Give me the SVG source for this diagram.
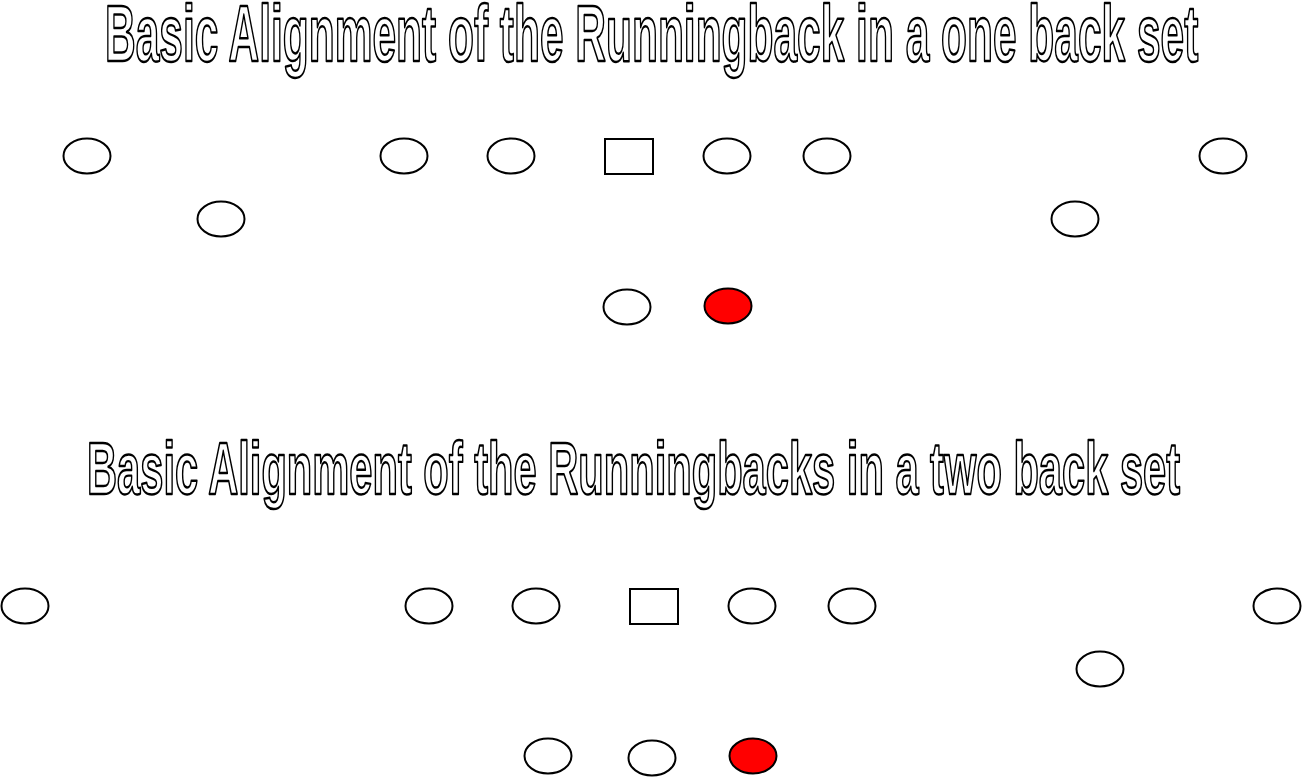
<svg xmlns="http://www.w3.org/2000/svg" width="1302" height="777" viewBox="0 0 1302 777">
<style>
.t{font-family:"Liberation Sans",Arial,sans-serif;font-weight:bold;fill:#fff;stroke:#000;stroke-width:2;stroke-linejoin:round;vector-effect:non-scaling-stroke}
.p{fill:#fff;stroke:#000;stroke-width:2}
.r{fill:#ff0000;stroke:#000;stroke-width:2}
</style>
<rect width="1302" height="777" fill="#fff"/>
<g id="title1"><text class="t" transform="translate(105,61) scale(0.531,1)" x="0" y="0" font-size="80">Basic Alignment of the Runningback in a one back set</text></g>
<g id="set1">
<ellipse id="n1" class="p" cx="87" cy="156" rx="23.5" ry="17.5"/>
<ellipse id="n2" class="p" cx="404" cy="156" rx="23.5" ry="17.5"/>
<ellipse id="n3" class="p" cx="511" cy="156" rx="23.5" ry="17.5"/>
<rect id="n4" class="p" x="605" y="139" width="48" height="35"/>
<ellipse id="n5" class="p" cx="727" cy="156" rx="23.5" ry="17.5"/>
<ellipse id="n6" class="p" cx="827" cy="156" rx="23.5" ry="17.5"/>
<ellipse id="n7" class="p" cx="1223" cy="156" rx="23.5" ry="17.5"/>
<ellipse id="n8" class="p" cx="221" cy="219" rx="23.5" ry="17.5"/>
<ellipse id="n9" class="p" cx="1075" cy="219" rx="23.5" ry="17.5"/>
<ellipse id="n10" class="p" cx="627" cy="307" rx="23.5" ry="17.5"/>
<ellipse id="n11" class="r" cx="728" cy="306" rx="23.5" ry="17.5"/>
</g>
<g id="title2"><text class="t" transform="translate(87,494) scale(0.563,1)" x="0" y="0" font-size="74">Basic Alignment of the Runningbacks in a two back set</text></g>
<g id="set2">
<ellipse id="m1" class="p" cx="25" cy="606" rx="23.5" ry="17.5"/>
<ellipse id="m2" class="p" cx="429" cy="606" rx="23.5" ry="17.5"/>
<ellipse id="m3" class="p" cx="536" cy="606" rx="23.5" ry="17.5"/>
<rect id="m4" class="p" x="630" y="589" width="48" height="35"/>
<ellipse id="m5" class="p" cx="752" cy="606" rx="23.5" ry="17.5"/>
<ellipse id="m6" class="p" cx="852" cy="606" rx="23.5" ry="17.5"/>
<ellipse id="m7" class="p" cx="1277" cy="606" rx="23.5" ry="17.5"/>
<ellipse id="m8" class="p" cx="1100" cy="669" rx="23.5" ry="17.5"/>
<ellipse id="m9" class="p" cx="548" cy="756" rx="23.5" ry="17.5"/>
<ellipse id="m10" class="p" cx="652" cy="758" rx="23.5" ry="17.5"/>
<ellipse id="m11" class="r" cx="753" cy="756" rx="23.5" ry="17.5"/>
</g>
<g id="connectors"></g>
</svg>
